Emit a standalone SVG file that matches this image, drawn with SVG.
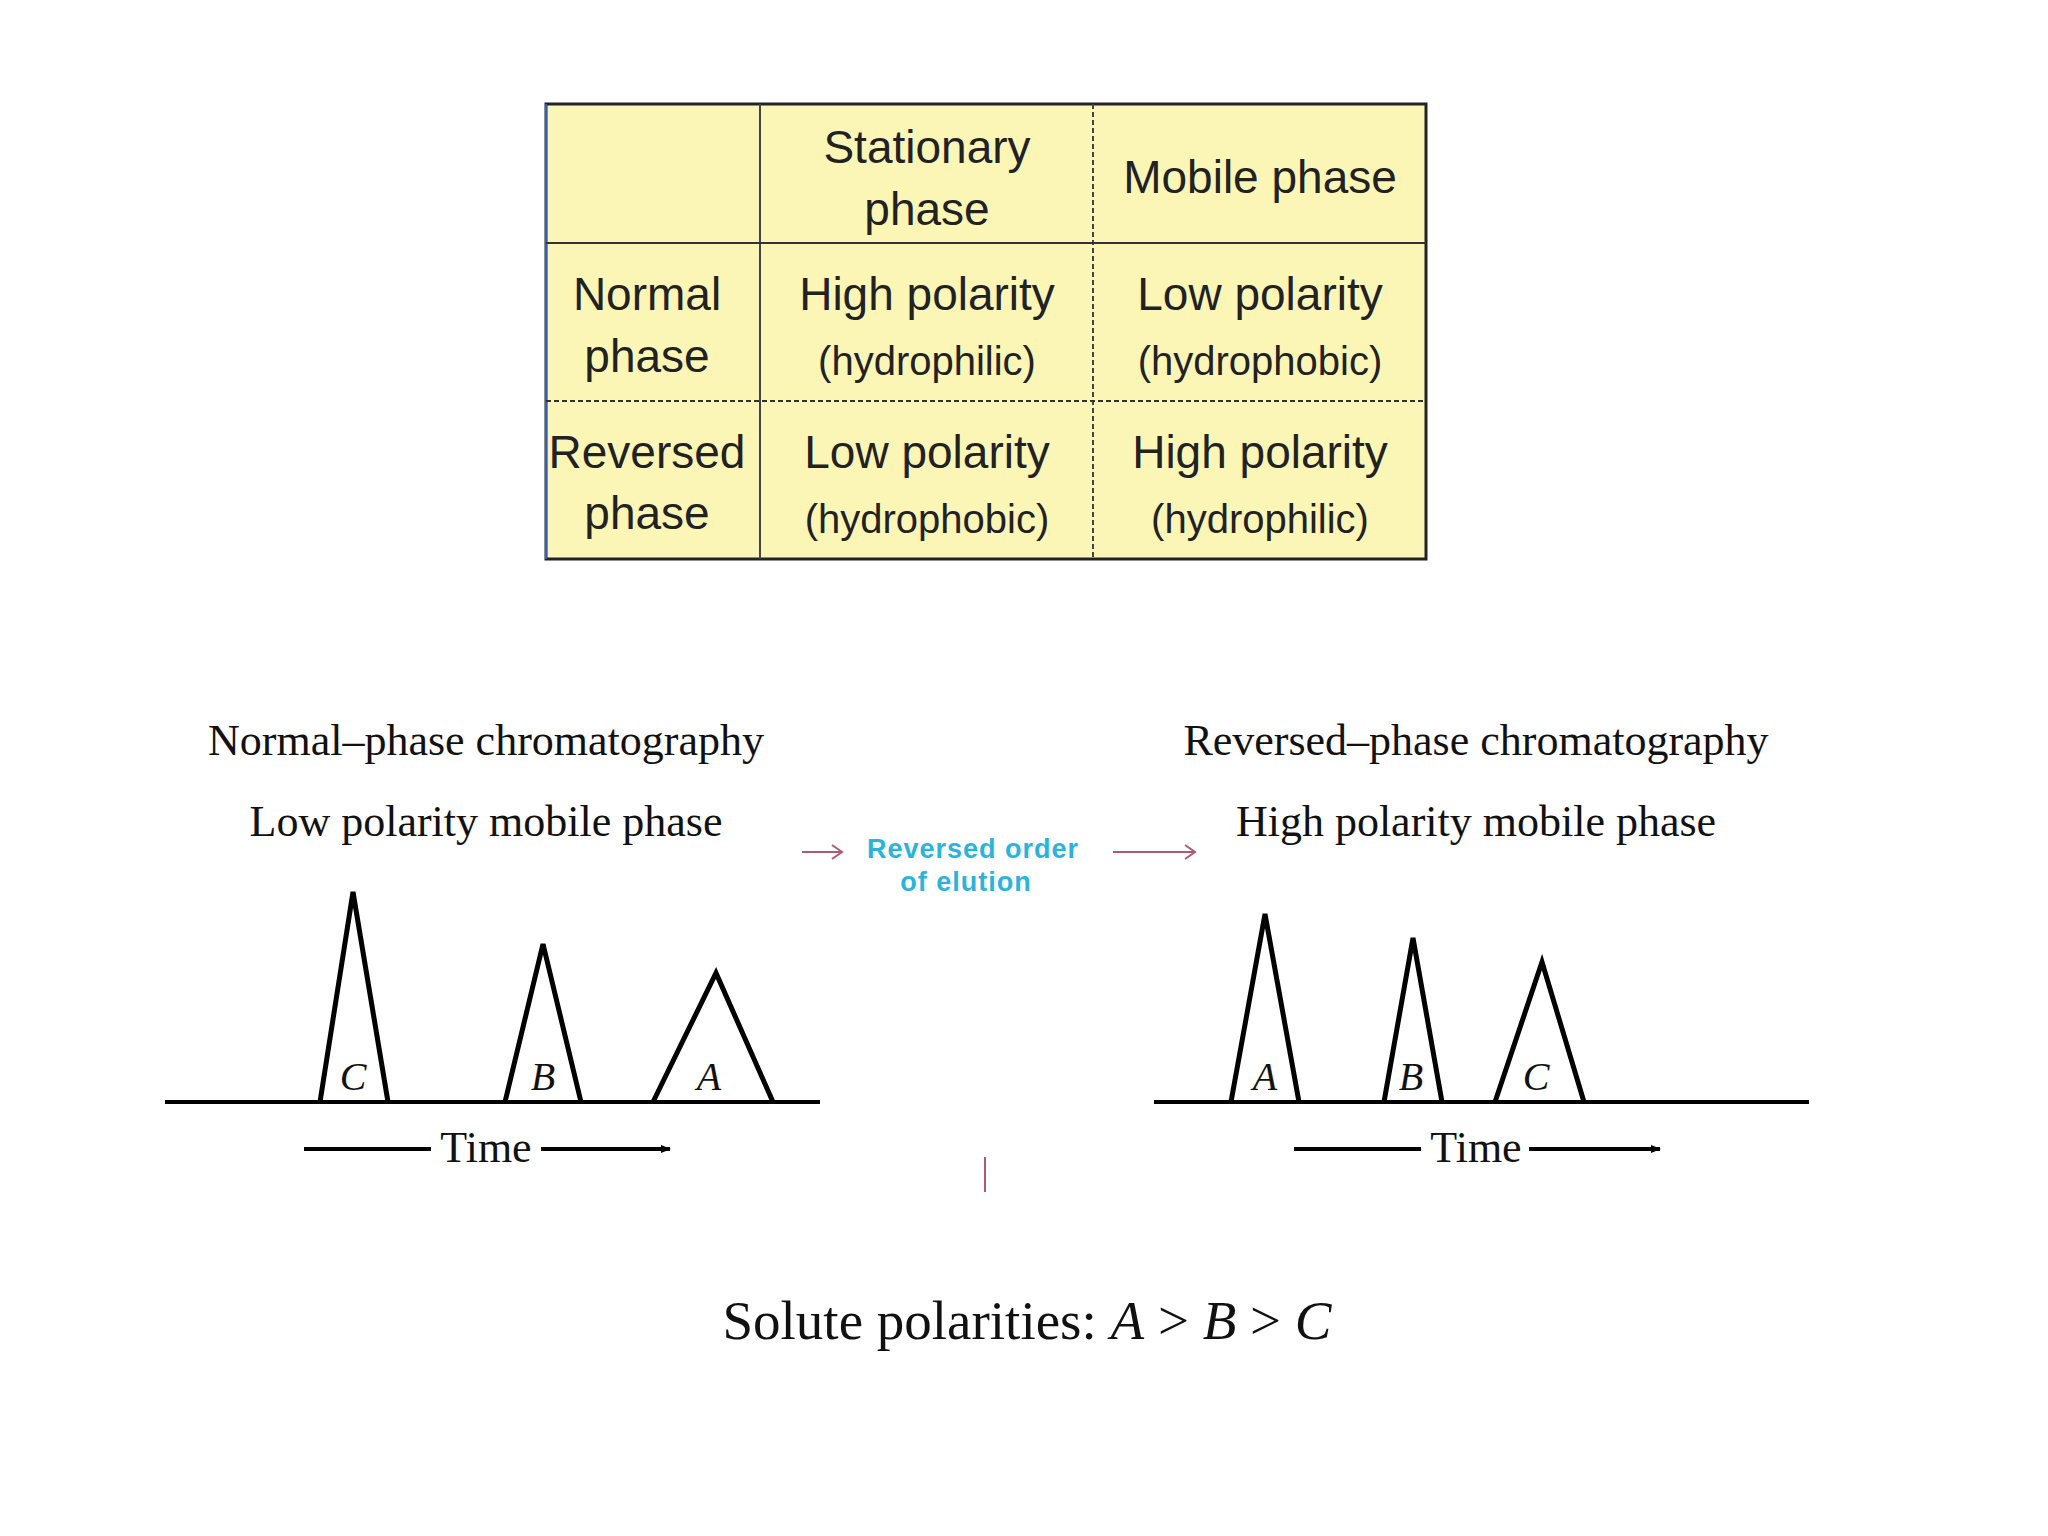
<svg xmlns="http://www.w3.org/2000/svg" width="2048" height="1536" viewBox="0 0 2048 1536">
<style>
.t{font-family:"Liberation Sans Narrow","Liberation Sans",Arial,sans-serif;fill:#222;text-anchor:middle}
.b{font-size:46px}.s{font-size:40px}
.sf{font-family:"Liberation Serif","Times New Roman",serif;fill:#111;text-anchor:middle}
.pk{fill:none;stroke:#000;stroke-width:5;stroke-linejoin:miter}
.ln{stroke:#000;stroke-width:4}
.pl{stroke:#b05878;stroke-width:2;fill:none}
.it{font-style:italic;font-size:40px}
</style>
<defs>
<marker id="ah" markerWidth="10" markerHeight="8" refX="9" refY="4" orient="auto" markerUnits="userSpaceOnUse"><path d="M0,0 L10,4 L0,8 Z" fill="#000"/></marker>
</defs>
<rect width="2048" height="1536" fill="#fff"/>
<g id="table">
<rect x="546" y="104" width="880" height="455" fill="#fcf6b6" stroke="#222" stroke-width="3"/>
<line x1="546" y1="104" x2="546" y2="559" stroke="#3060c0" stroke-width="2"/>
<line x1="760" y1="104" x2="760" y2="559" stroke="#444" stroke-width="2"/>
<line x1="1093" y1="104" x2="1093" y2="559" stroke="#444" stroke-width="2" stroke-dasharray="5,3"/>
<line x1="546" y1="243" x2="1426" y2="243" stroke="#333" stroke-width="2"/>
<line x1="546" y1="401" x2="1426" y2="401" stroke="#333" stroke-width="2" stroke-dasharray="5,3"/>
<text class="t b" x="927" y="163">Stationary</text>
<text class="t b" x="927" y="225">phase</text>
<text class="t b" x="1260" y="193">Mobile phase</text>
<text class="t b" x="647" y="310">Normal</text>
<text class="t b" x="647" y="372">phase</text>
<text class="t b" x="927" y="310">High polarity</text>
<text class="t s" x="927" y="375">(hydrophilic)</text>
<text class="t b" x="1260" y="310">Low polarity</text>
<text class="t s" x="1260" y="375">(hydrophobic)</text>
<text class="t b" x="647" y="468">Reversed</text>
<text class="t b" x="647" y="529">phase</text>
<text class="t b" x="927" y="468">Low polarity</text>
<text class="t s" x="927" y="533">(hydrophobic)</text>
<text class="t b" x="1260" y="468">High polarity</text>
<text class="t s" x="1260" y="533">(hydrophilic)</text>
</g>
<g id="normal">
<text class="sf" x="486" y="755" font-size="44">Normal–phase chromatography</text>
<text class="sf" x="486" y="836" font-size="44">Low polarity mobile phase</text>
<line class="ln" x1="165" y1="1102" x2="820" y2="1102"/>
<path class="pk" d="M320,1102 L353,892 L388,1102"/>
<path class="pk" d="M505,1102 L543,944 L581,1102"/>
<path class="pk" d="M653,1102 L716,973 L773,1102"/>
<text class="sf it" x="353" y="1090">C</text>
<text class="sf it" x="543" y="1090">B</text>
<text class="sf it" x="709" y="1090">A</text>
<line class="ln" x1="304" y1="1149" x2="431" y2="1149"/>
<line class="ln" x1="541" y1="1149" x2="670" y2="1149" marker-end="url(#ah)"/>
<text class="sf" x="486" y="1162" font-size="44">Time</text>
</g>
<g id="reversed">
<text class="sf" x="1476" y="755" font-size="44">Reversed–phase chromatography</text>
<text class="sf" x="1476" y="836" font-size="44">High polarity mobile phase</text>
<line class="ln" x1="1154" y1="1102" x2="1809" y2="1102"/>
<path class="pk" d="M1231,1102 L1265,914 L1299,1102"/>
<path class="pk" d="M1384,1102 L1413,938 L1442,1102"/>
<path class="pk" d="M1495,1102 L1542,962 L1584,1102"/>
<text class="sf it" x="1265" y="1090">A</text>
<text class="sf it" x="1411" y="1090">B</text>
<text class="sf it" x="1536" y="1090">C</text>
<line class="ln" x1="1294" y1="1149" x2="1421" y2="1149"/>
<line class="ln" x1="1529" y1="1149" x2="1660" y2="1149" marker-end="url(#ah)"/>
<text class="sf" x="1476" y="1162" font-size="44">Time</text>
</g>
<g id="connectors">
<path class="pl" d="M802,852 L842,852 M832,845 L842,852 L832,859"/>
<path class="pl" d="M1113,852 L1195,852 M1185,845 L1195,852 L1185,859"/>
<line class="pl" x1="985" y1="1157" x2="985" y2="1192"/>
</g>
<g id="label">
<text x="973" y="858" font-family="Liberation Sans,Arial,sans-serif" font-weight="bold" font-size="27" fill="#2ab4dc" text-anchor="middle" letter-spacing="1">Reversed order</text>
<text x="966" y="891" font-family="Liberation Sans,Arial,sans-serif" font-weight="bold" font-size="27" fill="#2ab4dc" text-anchor="middle" letter-spacing="1">of elution</text>
</g>
<text class="sf" x="1027" y="1339" font-size="55">Solute polarities: <tspan font-style="italic">A</tspan> &gt; <tspan font-style="italic">B</tspan> &gt; <tspan font-style="italic">C</tspan></text>
</svg>
